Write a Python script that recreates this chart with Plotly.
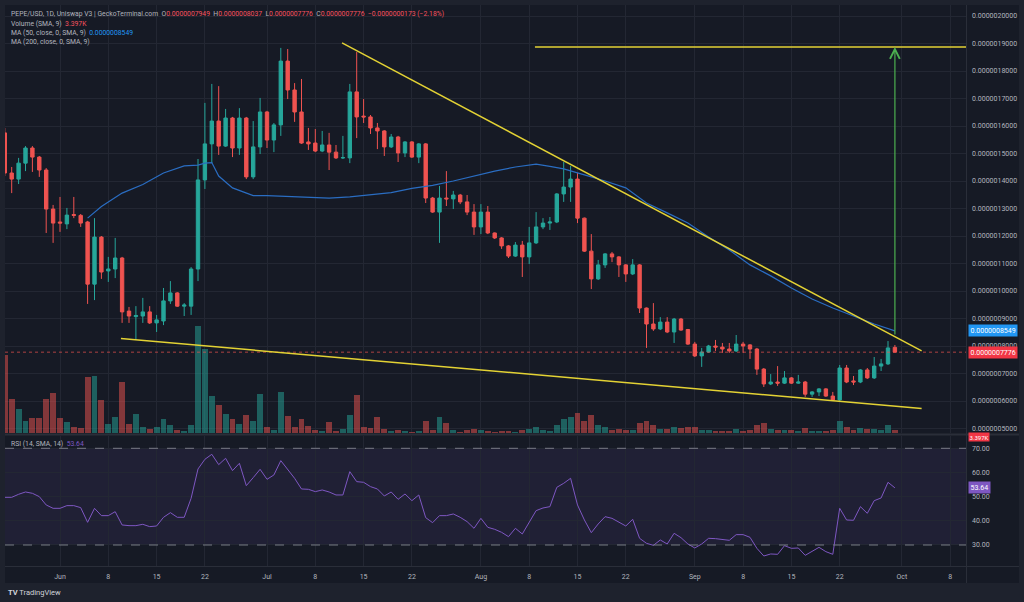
import plotly.graph_objects as go
import pandas as pd

W, H = 1024, 602
def fx(px): return px / W
def fy(py): return 1 - py / H

SCALE = 1e-7  # price values below are in units of 0.0000001
FONT = "Roboto"
TXT = "#b2b5be"
BG = "#161a25"
FRAME = "#1e222d"
UP = "#26a69a"
DN = "#ef5350"

dates = pd.date_range("2023-05-24", periods=130, freq="D")

open_ = [15.75, 14.29, 14.07, 14.65, 15.20, 14.87, 14.40, 12.98, 12.51, 12.44,
         12.78, 12.75, 12.51, 10.25, 11.96, 10.73, 10.80, 11.20, 9.27, 9.07,
         9.09, 9.24, 8.84, 8.91, 9.64, 9.93, 9.45, 9.45, 10.80, 14.04,
         15.35, 16.18, 15.27, 16.29, 15.20, 16.29, 14.15, 15.24, 16.51, 15.49,
         16.04, 18.36, 17.31, 16.51, 15.42, 15.38, 15.09, 15.31, 15.05, 14.84,
         14.84, 17.24, 16.36, 16.33, 15.93, 15.82, 15.24, 15.60, 15.02, 15.42,
         14.87, 15.35, 13.38, 12.87, 13.38, 13.35, 13.49, 13.24, 12.87, 12.33,
         12.87, 12.11, 11.93, 11.64, 11.27, 11.67, 11.24, 11.75, 12.33, 12.47,
         12.51, 13.53, 13.78, 14.07, 12.65, 11.45, 10.44, 10.95, 11.35, 11.24,
         10.95, 10.62, 10.95, 9.38, 8.80, 8.62, 8.87, 8.51, 8.98, 8.60,
         8.07, 7.64, 7.78, 8.00, 7.96, 7.89, 7.82, 8.07, 8.04, 7.89,
         7.16, 6.62, 6.69, 6.65, 6.84, 6.65, 6.69, 6.25, 6.33, 6.44,
         6.18, 6.04, 7.20, 6.73, 6.69, 7.13, 6.84, 7.27, 7.35, 7.949]
high = [15.93, 14.51, 14.84, 15.27, 15.27, 14.91, 14.47, 13.13, 13.42, 13.02,
        13.42, 12.80, 12.55, 12.65, 12.00, 11.24, 11.93, 11.24, 9.42, 9.45,
        9.75, 9.45, 9.13, 10.11, 10.36, 9.96, 9.56, 10.87, 14.80, 16.84,
        17.53, 17.45, 16.62, 16.33, 16.65, 16.33, 16.18, 17.02, 16.55, 16.11,
        18.84, 18.80, 17.56, 17.71, 15.93, 15.89, 15.82, 15.75, 15.31, 15.64,
        17.53, 18.69, 16.98, 16.40, 16.11, 15.85, 15.71, 15.64, 15.45, 15.45,
        15.38, 15.38, 13.42, 13.82, 14.36, 13.64, 13.53, 13.49, 13.16, 13.16,
        13.09, 12.13, 11.96, 11.67, 11.78, 11.82, 12.33, 12.87, 12.65, 12.69,
        13.56, 14.69, 14.55, 14.29, 12.67, 12.07, 11.13, 11.38, 11.42, 11.27,
        10.98, 11.16, 10.98, 9.40, 9.56, 9.05, 9.05, 9.02, 9.02, 8.62,
        8.15, 7.93, 8.04, 8.22, 8.11, 8.11, 8.40, 8.15, 8.07, 7.93,
        7.20, 6.98, 7.27, 7.09, 6.87, 6.95, 6.73, 6.36, 6.47, 6.47,
        6.33, 7.31, 7.31, 6.91, 7.16, 7.20, 7.60, 7.53, 8.18, 8.037]
low = [14.18, 13.56, 13.89, 14.36, 14.33, 14.15, 12.11, 11.75, 12.15, 12.25,
       12.65, 12.33, 9.53, 9.67, 10.44, 10.33, 10.47, 8.84, 8.84, 8.22,
       8.84, 8.80, 8.51, 8.76, 9.53, 9.42, 9.09, 9.13, 10.36, 13.71,
       14.65, 14.95, 15.24, 14.87, 14.95, 14.07, 14.07, 14.98, 15.20, 15.05,
       15.64, 16.98, 16.15, 15.35, 15.13, 15.05, 15.05, 14.40, 14.80, 14.80,
       14.65, 15.56, 16.11, 15.71, 15.16, 14.91, 15.20, 14.69, 14.87, 14.84,
       14.65, 13.20, 12.84, 11.75, 13.09, 12.98, 13.16, 12.76, 12.04, 12.07,
       12.07, 11.89, 11.53, 11.20, 11.24, 10.51, 10.98, 11.71, 12.25, 12.22,
       12.47, 13.24, 13.24, 12.47, 11.42, 10.07, 10.40, 10.84, 11.05, 10.51,
       10.33, 10.58, 9.20, 7.93, 8.55, 8.58, 8.47, 8.11, 8.55, 8.04,
       7.60, 7.24, 7.75, 7.82, 7.75, 7.75, 7.78, 7.75, 7.53, 6.95,
       6.51, 6.58, 6.55, 6.62, 6.62, 6.62, 6.15, 6.15, 6.18, 6.15,
       6.00, 6.00, 6.65, 6.58, 6.65, 6.80, 6.80, 7.09, 7.31, 7.776]
close = [14.29, 14.07, 14.65, 15.20, 14.87, 14.40, 12.98, 12.47, 12.47, 12.76,
         12.75, 12.47, 10.25, 11.96, 10.69, 10.80, 11.20, 9.24, 9.09, 9.11,
         9.24, 8.84, 8.95, 9.64, 9.93, 9.45, 9.49, 10.80, 14.04, 15.35,
         16.18, 15.27, 16.29, 15.20, 16.29, 14.15, 15.24, 16.51, 15.49, 16.04,
         18.36, 17.31, 16.51, 15.38, 15.35, 15.09, 15.31, 15.05, 14.84, 14.85,
         17.24, 16.33, 16.33, 15.93, 15.82, 15.24, 15.60, 15.02, 15.42, 14.87,
         15.35, 13.38, 12.87, 13.38, 13.35, 13.49, 13.24, 12.87, 12.33, 12.87,
         12.11, 11.93, 11.64, 11.27, 11.67, 11.24, 11.75, 12.33, 12.47, 12.51,
         13.53, 13.78, 14.07, 12.65, 11.45, 10.44, 10.95, 11.35, 11.24, 10.95,
         10.62, 10.95, 9.38, 8.80, 8.62, 8.87, 8.51, 8.98, 8.58, 8.07,
         7.64, 7.78, 8.00, 7.96, 7.89, 7.82, 8.07, 8.00, 7.89, 7.16,
         6.62, 6.69, 6.65, 6.84, 6.65, 6.69, 6.25, 6.33, 6.44, 6.18,
         6.04, 7.20, 6.69, 6.69, 7.13, 6.84, 7.27, 7.35, 7.93, 7.776]

# volume in thousands
volume_k = [78, 33.7, 23.7, 12, 14.7, 15.3, 34, 40, 14.7, 11,
            5.7, 5, 56, 57, 32.7, 8.7, 16, 51, 8.7, 18.7,
            5.7, 4.3, 5.7, 13.7, 7.7, 3.3, 1.7, 7.7, 107, 84,
            36.7, 28, 18.7, 13.7, 8.7, 17.7, 11.7, 39, 6.3, 3.3,
            40.7, 17, 6.3, 13.7, 7, 3.3, 2, 10.7, 2, 4,
            18, 38.3, 5.7, 5, 15.7, 4, 2, 2.7, 1.7, 1,
            2, 12, 3.3, 15.7, 10, 3.3, 1, 3.3, 4, 3.3,
            2, 1, 2, 2, 1, 3, 4, 6, 3, 2,
            8, 14, 16, 20, 12, 18, 8, 6, 3, 4,
            3, 3, 10, 12, 8, 4, 4, 6, 5, 6,
            6, 3, 3, 2, 2, 2, 4, 2, 3, 8,
            10, 4, 3, 3, 3, 2, 5, 2, 2, 2,
            3, 12, 6, 3, 5, 4, 4, 3, 8, 3.397]

rsi = [49.72, 49.72, 50.97, 51.93, 51.38, 50.00, 46.55, 45.17, 45.17, 46.28,
       46.28, 45.45, 39.38, 45.17, 42.14, 42.14, 43.79, 38.28, 38.00, 38.00,
       38.55, 37.59, 37.86, 41.45, 43.38, 41.45, 41.45, 49.31, 61.45, 65.45,
       67.52, 63.24, 65.86, 60.76, 63.79, 54.55, 57.86, 61.31, 57.17, 58.97,
       64.90, 61.03, 57.59, 53.17, 53.03, 52.07, 52.76, 51.93, 50.69, 50.69,
       60.34, 56.21, 55.93, 54.14, 53.17, 50.28, 51.93, 48.90, 51.10, 48.34,
       50.69, 41.31, 39.24, 42.14, 42.14, 42.83, 41.45, 39.66, 36.90, 41.03,
       37.31, 36.48, 35.24, 33.45, 36.90, 34.55, 39.38, 44.21, 45.31, 45.86,
       53.86, 55.52, 57.59, 46.55, 40.34, 35.10, 38.69, 41.72, 41.03, 39.38,
       37.86, 40.62, 32.76, 30.69, 29.86, 32.07, 30.41, 34.83, 33.03, 30.41,
       28.76, 30.41, 32.76, 32.62, 32.34, 31.93, 34.28, 34.28, 33.17, 28.62,
       25.45, 26.28, 26.14, 29.72, 28.62, 28.76, 25.72, 27.24, 29.03, 27.24,
       26.14, 45.17, 40.34, 40.21, 45.86, 43.10, 48.34, 49.45, 55.93, 53.64]

ma50_dates = ["2023-06-05", "2023-06-07", "2023-06-10", "2023-06-13", "2023-06-16",
              "2023-06-19", "2023-06-21", "2023-06-22", "2023-06-23", "2023-06-24",
              "2023-06-26", "2023-06-29", "2023-07-01", "2023-07-05", "2023-07-10",
              "2023-07-13", "2023-07-16", "2023-07-19", "2023-07-22", "2023-07-25",
              "2023-07-28", "2023-07-31", "2023-08-03", "2023-08-06", "2023-08-09",
              "2023-08-11", "2023-08-13", "2023-08-16", "2023-08-19", "2023-08-22",
              "2023-08-25", "2023-08-28", "2023-08-31", "2023-09-03", "2023-09-06",
              "2023-09-09", "2023-09-12", "2023-09-15", "2023-09-18", "2023-09-21",
              "2023-09-24", "2023-09-27", "2023-09-30"]
ma50_vals = [12.65, 13.07, 13.56, 13.87, 14.29,
             14.55, 14.58, 14.65, 14.67, 14.18,
             13.75, 13.47, 13.47, 13.42, 13.38,
             13.42, 13.49, 13.58, 13.73, 13.84,
             14.00, 14.18, 14.36, 14.51, 14.61,
             14.53, 14.44, 14.22, 14.00, 13.75,
             13.20, 12.84, 12.47, 11.96, 11.49,
             10.95, 10.55, 10.11, 9.71, 9.38,
             9.09, 8.80, 8.549]

price_ticks = [5, 6, 7, 8, 9, 10, 11, 12, 13, 14, 15, 16, 17, 18, 19, 20]
price_tick_labels = ["0.0000005000", "0.0000006000", "0.0000007000", "0.0000008000",
                     "0.0000009000", "0.0000010000", "0.0000011000", "0.0000012000",
                     "0.0000013000", "0.0000014000", "0.0000015000", "0.0000016000",
                     "0.0000017000", "0.0000018000", "0.0000019000", "0.0000020000"]
rsi_ticks = [30, 40, 50, 60, 70]
rsi_tick_labels = ["30.00", "40.00", "50.00", "60.00", "70.00"]
x_tick_dates = ["2023-06-01", "2023-06-08", "2023-06-15", "2023-06-22",
                "2023-07-01", "2023-07-08", "2023-07-15", "2023-07-22",
                "2023-08-01", "2023-08-08", "2023-08-15", "2023-08-22",
                "2023-09-01", "2023-09-08", "2023-09-15", "2023-09-22",
                "2023-10-01", "2023-10-08"]
x_tick_labels = ["Jun", "8", "15", "22", "Jul", "8", "15", "22", "Aug", "8", "15", "22",
                 "Sep", "8", "15", "22", "Oct", "8"]

# drawings (time, price) as placed on the chart
upper_trend = (("2023-07-11 21:00", 19.02), ("2023-10-03 21:00", 7.82))
lower_trend = (("2023-06-09 20:00", 8.27), ("2023-10-03 21:00", 5.73))
target_line = (("2023-08-08 20:00", 18.87), ("2023-10-10 07:18", 18.87))
arrow = (("2023-09-30", 8.36), ("2023-09-30", 18.87))

last_price = 7.776
ma_last = 8.549
x_range = ["2023-05-24 00:42", "2023-10-10 07:18"]
price_range = [4.8364, 20.4]
rsi_range = [21.1, 75.09]
vol_range = [0, 428]

p = lambda arr: [v * SCALE for v in arr]

fig = go.Figure()

vol_colors = ["rgba(38,166,154,0.5)" if c >= o else "rgba(239,83,80,0.5)"
              for o, c in zip(open_, close)]
fig.add_trace(go.Bar(x=dates, y=volume_k, marker=dict(color=vol_colors, line=dict(width=0)),
                     width=0.86 * 86400000, xaxis="x", yaxis="y", hoverinfo="skip"))

fig.add_trace(go.Scatter(x=pd.to_datetime(ma50_dates), y=p(ma50_vals), mode="lines",
                         line=dict(color="#2a6dc2", width=1.2), xaxis="x", yaxis="y2",
                         hoverinfo="skip"))

fig.add_trace(go.Candlestick(x=dates, open=p(open_), high=p(high), low=p(low), close=p(close),
                             increasing=dict(line=dict(color=UP, width=1), fillcolor=UP),
                             decreasing=dict(line=dict(color=DN, width=1), fillcolor=DN),
                             whiskerwidth=0, xaxis="x", yaxis="y2", hoverinfo="skip"))

fig.add_trace(go.Scatter(x=dates, y=rsi, mode="lines", line=dict(color="#7e57c2", width=1),
                         xaxis="x2", yaxis="y3", hoverinfo="skip"))

GRID = "#232733"
fig.update_layout(
    width=W, height=H, margin=dict(l=0, r=0, t=0, b=0),
    paper_bgcolor=FRAME, plot_bgcolor=BG, showlegend=False, bargap=0,
    font=dict(family=FONT, size=7, color=TXT),
    xaxis=dict(domain=[fx(5), fx(966)], anchor="y", type="date", range=x_range,
               tickvals=x_tick_dates, showticklabels=False, showgrid=True, gridcolor=GRID,
               gridwidth=1, zeroline=False, rangeslider=dict(visible=False), fixedrange=True,
               ticks=""),
    yaxis=dict(domain=[fy(433), fy(5)], anchor="x", range=vol_range, visible=False,
               showgrid=False, fixedrange=True),
    yaxis2=dict(overlaying="y", anchor="x", side="right", range=p(price_range),
                tickvals=p(price_ticks), ticktext=price_tick_labels, showgrid=True,
                gridcolor=GRID, zeroline=False, ticks="", ticklabelstandoff=5,
                tickfont=dict(family=FONT, size=7, color=TXT), fixedrange=True),
    xaxis2=dict(domain=[fx(5), fx(966)], anchor="y3", type="date", range=x_range,
                tickvals=x_tick_dates, ticktext=x_tick_labels, showgrid=True, gridcolor=GRID,
                zeroline=False, ticks="", ticklabelstandoff=4,
                tickfont=dict(family=FONT, size=7, color=TXT), fixedrange=True),
    yaxis3=dict(domain=[fy(566.5), fy(436)], anchor="x2", side="right", range=rsi_range,
                tickvals=rsi_ticks, ticktext=rsi_tick_labels, showgrid=True, gridcolor=GRID,
                zeroline=False, ticks="", ticklabelstandoff=5,
                tickfont=dict(family=FONT, size=7, color=TXT), fixedrange=True),
)

shapes = []
shapes.append(dict(type="rect", xref="paper", yref="paper", x0=fx(5), x1=fx(1019),
                   y0=fy(583), y1=fy(5), fillcolor=BG, line=dict(width=0), layer="below"))
shapes.append(dict(type="rect", xref="x2 domain", yref="y3", x0=0, x1=1, y0=30, y1=70,
                   fillcolor="rgba(126,87,194,0.1)", line=dict(width=0), layer="below"))
for lv in (70, 30):
    shapes.append(dict(type="line", xref="x2 domain", yref="y3", x0=0, x1=1, y0=lv, y1=lv,
                       line=dict(color="#787b86", width=1, dash="dash"), layer="above"))
shapes.append(dict(type="line", xref="x domain", yref="y2", x0=0, x1=1,
                   y0=last_price * SCALE, y1=last_price * SCALE,
                   line=dict(color="rgba(239,83,80,0.7)", width=1, dash="dot"), layer="above"))
YEL = "#e3d234"
for (a, b) in (upper_trend, lower_trend, target_line):
    shapes.append(dict(type="line", xref="x", yref="y2", x0=a[0], y0=a[1] * SCALE,
                       x1=b[0], y1=b[1] * SCALE, line=dict(color=YEL, width=1.5), layer="above"))
BORDER = "#2a2e39"
shapes += [
    dict(type="line", xref="paper", yref="paper", x0=fx(5), x1=fx(1019), y0=fy(434.5), y1=fy(434.5),
         line=dict(color=BORDER, width=2)),
    dict(type="line", xref="paper", yref="paper", x0=fx(5), x1=fx(1019), y0=fy(566.5), y1=fy(566.5),
         line=dict(color=BORDER, width=1)),
    dict(type="line", xref="paper", yref="paper", x0=fx(966.5), x1=fx(966.5), y0=fy(583), y1=fy(5),
         line=dict(color=BORDER, width=1)),
]
fig.update_layout(shapes=shapes)

ann = []
def label(x, y, text, color=TXT, size=6.8, **kw):
    ann.append(dict(x=fx(x), y=fy(y), xref="paper", yref="paper", text=text, showarrow=False,
                    xanchor="left", yanchor="middle", font=dict(family=FONT, size=size, color=color), **kw))

RED_T = "#f7525f"
def red(s): return "<span style='color:%s'>%s</span>" % (RED_T, s)

label(9, 14, "PEPE/USD, 1D, Uniswap V3 | GeckoTerminal.com  O" + red("0.0000007949") +
      "  H" + red("0.0000008037") + "  L" + red("0.0000007776") + "  C" + red("0.0000007776") +
      "  " + red("\u22120.0000000173 (\u22122.18%)"))
label(9, 23.7, "Volume (SMA, 9)  " + red("3.397K"))
label(9, 32.7, "MA (50, close, 0, SMA, 9)  <span style='color:#2196f3'>0.0000008549</span>")
label(9, 42.3, "MA (200, close, 0, SMA, 9)")
label(9, 443.5, "RSI (14, SMA, 14)  <span style='color:#7e57c2'>53.64</span>")
label(6, 592, "<b>TV</b> TradingView", "#d1d4dc", size=7.5)

ann.append(dict(x=fx(967.5), y=ma_last * SCALE, xref="paper", yref="y2", text="0.0000008549",
                showarrow=False, xanchor="left", yanchor="middle", bgcolor="#2196f3",
                borderpad=1.5, font=dict(family=FONT, size=7, color="#ffffff")))
ann.append(dict(x=fx(967.5), y=last_price * SCALE, xref="paper", yref="y2", text="0.0000007776",
                showarrow=False, xanchor="left", yanchor="middle", bgcolor="#f23645",
                borderpad=1.5, font=dict(family=FONT, size=7, color="#ffffff")))
ann.append(dict(x=fx(967.5), y=fy(436.5), xref="paper", yref="paper", text="3.397K",
                showarrow=False, xanchor="left", yanchor="middle", bgcolor="#f23645",
                borderpad=0.5, font=dict(family=FONT, size=6, color="#ffffff")))
ann.append(dict(x=fx(967.5), y=53.64, xref="paper", yref="y3", text="53.64",
                showarrow=False, xanchor="left", yanchor="middle", bgcolor="#7e57c2",
                borderpad=1.5, font=dict(family=FONT, size=7, color="#ffffff")))
ann.append(dict(x=arrow[1][0], y=arrow[1][1] * SCALE, ax=arrow[0][0], ay=arrow[0][1] * SCALE,
                xref="x", yref="y2", axref="x", ayref="y2", text="", showarrow=True,
                arrowhead=5, arrowsize=1.6, arrowwidth=1.2, arrowcolor="#4caf50"))
fig.update_layout(annotations=ann)

fig.write_html("out.html")
